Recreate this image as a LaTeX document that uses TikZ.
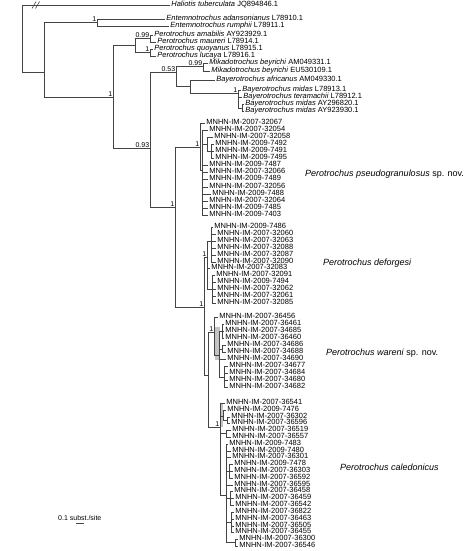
\documentclass[tikz,border=0pt]{standalone}
\usepackage{fontspec}
\setmainfont{Liberation Sans}
\usepackage{xcolor}
\usepackage{tikz}
\definecolor{TreeGray}{HTML}{444444}
\definecolor{BarGray}{HTML}{C4C4C4}
\tikzset{
  branch/.style={line width=0.8pt,draw=TreeGray},
  leaf/.style={anchor=west,inner sep=1.2pt,text height=5.4pt,text depth=1.5pt,font=\fontsize{7.5}{8.5}\selectfont},
  supp/.style={anchor=south east,inner sep=0.6pt,font=\fontsize{7}{8}\selectfont},
  cladelab/.style={anchor=west,inner sep=0pt,font=\fontsize{9}{10}\selectfont},
  hpdbar/.style={fill=BarGray,draw=none}
}

\begin{document}
\begin{tikzpicture}[x=1pt,y=-1pt]
\useasboundingbox (0,0) rectangle (474,551);
% backbone
\coordinate (R) at (22,40);
\coordinate (nA) at (44,72);
\coordinate (nEnt) at (97,22);
\coordinate (nB) at (113,97);
\coordinate (nP) at (135,45);
\coordinate (nP1) at (150,38);
\coordinate (nP2) at (150,52);
\coordinate (nC) at (150,148);
\coordinate (nM) at (176,72);
\coordinate (nMik) at (203,66);
\coordinate (nN) at (190,86);
\coordinate (nMid) at (238,93);
\coordinate (nMid2) at (242,108);
\coordinate (nD) at (175,207);
\coordinate (nE) at (204,307);
\coordinate (nF) at (208,375);
% clades
\coordinate (nPs) at (200,147);
\coordinate (nPsA) at (202,170);
\coordinate (nPsB) at (207,144);
\coordinate (nPsD) at (211,151);
\coordinate (nDef) at (207,257);
\coordinate (nDefA) at (211,241);
\coordinate (nDefB) at (212,289);
\coordinate (nWar) at (214,332);
\coordinate (nWarA) at (219,355);
\coordinate (nWarB) at (222,331);
\coordinate (nWarC) at (222,349);
\coordinate (nWarD) at (224,377);
\coordinate (nCal) at (220,427);
\coordinate (nCalA) at (223,416);
\coordinate (nCalA2) at (227,420);
\coordinate (nCalB) at (226,433);
\coordinate (nCalC) at (226,495);
\coordinate (nCalD) at (229,471);
\coordinate (nCalE) at (230,498);
\coordinate (nCalF) at (231,522);
\coordinate (nCalG) at (235,542);

% node bars
\fill[hpdbar] (215,327) rectangle (220,360);
\fill[hpdbar] (220,403) rectangle (223,427);

% reference sequences
\node[leaf] (hal) at (170,5) {\textit{Haliotis tuberculata} JQ894846.1};
\node[leaf] (ent1) at (165,19) {\textit{Entemnotrochus adansonianus} L78910.1};
\node[leaf] (ent2) at (169,26) {\textit{Entemnotrochus rumphii} L78911.1};
\node[leaf] (pam) at (153,35) {\textit{Perotrochus amabilis} AY923929.1};
\node[leaf] (pma) at (156,42) {\textit{Perotrochus maureri} L78914.1};
\node[leaf] (pqu) at (153,49) {\textit{Perotrochus quoyanus} L78915.1};
\node[leaf] (plu) at (156,56) {\textit{Perotrochus lucaya} L78916.1};
\node[leaf] (mik1) at (208,63) {\textit{Mikadotrochus beyrichi} AM049331.1};
\node[leaf] (mik2) at (210,71) {\textit{Mikadotrochus beyrichi} EU530109.1};
\node[leaf] (baf) at (215,80) {\textit{Bayerotrochus africanus} AM049330.1};
\node[leaf] (bm1) at (241,90) {\textit{Bayerotrochus midas} L78913.1};
\node[leaf] (bte) at (242,97) {\textit{Bayerotrochus teramachii} L78912.1};
\node[leaf] (bm2) at (244,104) {\textit{Bayerotrochus midas} AY296820.1};
\node[leaf] (bm3) at (244,111) {\textit{Bayerotrochus midas} AY923930.1};

% MNHN specimens
\foreach \n/\x/\y/\t in {
  m32067/205/123/2007-32067, m32054/208/130/2007-32054, m32058/213/137/2007-32058,
  m7492/214/144/2009-7492, m7491/214/151/2009-7491, m7495/214/158/2009-7495,
  m7487/208/165/2009-7487, m32066/208/172/2007-32066, m7489/208/179/2009-7489,
  m32056/208/187/2007-32056, m7488/211/194/2009-7488, m32064/208/201/2007-32064,
  m7485/208/208/2009-7485, m7403/208/215/2009-7403,
  m7486/213/227/2009-7486, m32060/216/234/2007-32060, m32063/216/241/2007-32063,
  m32088/216/248/2007-32088, m32087/216/255/2007-32087, m32090/216/262/2007-32090,
  m32083/210/268/2007-32083, m32091/215/275/2007-32091, m7494/216/282/2009-7494,
  m32062/216/289/2007-32062, m32061/216/296/2007-32061, m32085/216/303/2007-32085,
  m36456/218/317/2007-36456, m36461/224/324/2007-36461, m34685/224/331/2007-34685,
  m36460/224/338/2007-36460, m34686/226/345/2007-34686, m34688/226/352/2007-34688,
  m34690/226/359/2007-34690, m34677/228/366/2007-34677, m34684/228/373/2007-34684,
  m34680/228/380/2007-34680, m34682/228/387/2007-34682,
  m36541/225/403/2007-36541, m7476/226/410/2009-7476, m36302/230/417/2007-36302,
  m36596/230/423/2007-36596, m36519/231/430/2007-36519, m36557/231/437/2007-36557,
  m7483/228/444/2009-7483, m7480/231/451/2009-7480, m36301/231/457/2007-36301,
  m7478/233/464/2009-7478, m36303/233/471/2007-36303, m36592/233/478/2007-36592,
  m36595/233/485/2007-36595, m36458/233/491/2007-36458, m36459/234/498/2007-36459,
  m36542/234/505/2007-36542, m36822/234/512/2007-36822, m36463/234/519/2007-36463,
  m36505/234/526/2007-36505, m36455/234/532/2007-36455, m36300/238/539/2007-36300,
  m36546/238/546/2007-36546}
  \node[leaf] (\n) at (\x,\y) {MNHN-IM-\t};

% branches
\foreach \p/\c in {R/hal, R/nA, nA/nEnt, nA/nB, nEnt/ent1, nEnt/ent2,
  nB/nP, nB/nC, nP/nP1, nP/nP2, nP1/pam, nP1/pma, nP2/pqu, nP2/plu,
  nC/nM, nC/nD, nM/nMik, nM/nN, nMik/mik1, nMik/mik2, nN/baf, nN/nMid,
  nMid/bm1, nMid/bte, nMid/nMid2, nMid2/bm2, nMid2/bm3,
  nD/nPs, nD/nE, nE/nDef, nE/nF, nF/nWar, nF/nCal,
  nPs/m32067, nPs/nPsA, nPsA/m32054, nPsA/nPsB, nPsB/m32058, nPsB/nPsD,
  nPsD/m7492, nPsD/m7491, nPsD/m7495, nPsA/m7487, nPsA/m32066, nPsA/m7489,
  nPsA/m32056, nPsA/m7488, nPsA/m32064, nPsA/m7485, nPsA/m7403,
  nDef/nDefA, nDef/m32083, nDef/nDefB, nDefA/m7486, nDefA/m32060, nDefA/m32063,
  nDefA/m32088, nDefA/m32087, nDefA/m32090, nDefB/m32091, nDefB/m7494,
  nDefB/m32062, nDefB/m32061, nDefB/m32085,
  nWar/m36456, nWar/nWarA, nWarA/nWarB, nWarB/m36461, nWarB/m34685, nWarB/m36460,
  nWarA/nWarC, nWarC/m34686, nWarC/m34688, nWarA/m34690, nWarA/nWarD,
  nWarD/m34677, nWarD/m34684, nWarD/m34680, nWarD/m34682,
  nCal/m36541, nCal/nCalA, nCalA/m7476, nCalA/nCalA2, nCalA2/m36302, nCalA2/m36596,
  nCal/nCalB, nCalB/m36519, nCalB/m36557, nCal/nCalC, nCalC/m7483, nCalC/m7480,
  nCalC/m36301, nCalC/nCalD, nCalD/m7478, nCalD/m36303, nCalD/m36592, nCalC/m36595,
  nCalC/nCalE, nCalE/m36458, nCalE/m36459, nCalE/m36542, nCalC/nCalF,
  nCalF/m36822, nCalF/m36463, nCalF/m36505, nCalF/m36455, nCalC/nCalG,
  nCalG/m36300, nCalG/m36546}
  \draw[branch] (\p) |- (\c);

% break on the outgroup branch
\draw[branch,line width=0.6pt] (32,8.5) -- (36,1.5) (35.5,8.5) -- (39.5,1.5);

% posterior probabilities
\foreach \n/\v in {nEnt/1, nB/1, nP1/0.99, nP2/1, nC/0.93, nM/0.53, nMik/0.99,
  nMid/1, nD/1, nPs/1, nE/1, nDef/1, nWar/1, nCal/1}
  \node[supp] at (\n) {\v};

% species
\node[cladelab] (pseudo) at (305,174) {\textit{Perotrochus pseudogranulosus} sp. nov.};
\node[cladelab] (defo) at (323,263) {\textit{Perotrochus deforgesi}};
\node[cladelab] (wareni) at (326,353) {\textit{Perotrochus wareni} sp. nov.};
\node[cladelab] (caled) at (340,467) {\textit{Perotrochus caledonicus}};

% scale
\node[anchor=west,inner sep=0pt,font=\fontsize{7}{8}\selectfont] (scale) at (58,518) {0.1 subst./site};
\coordinate (sb1) at (76,523);
\coordinate (sb2) at (84,523);
\draw[branch] (sb1) -- (sb2);
\end{tikzpicture}
\end{document}
